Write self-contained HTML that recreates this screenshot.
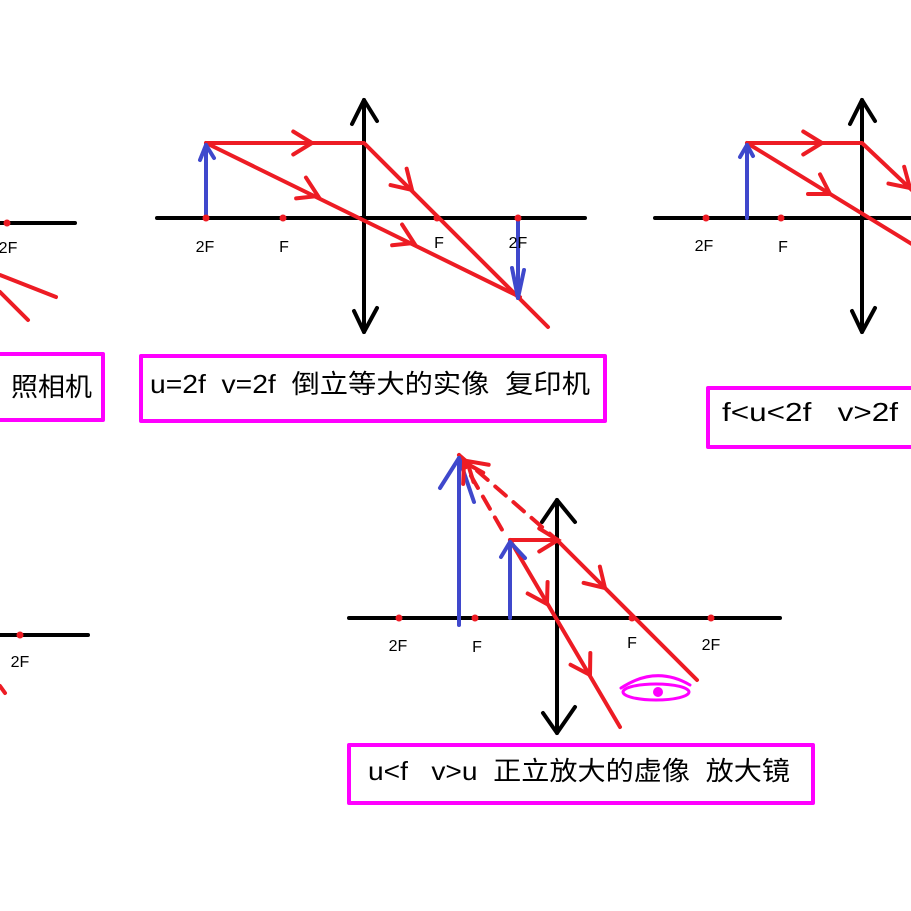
<!DOCTYPE html>
<html><head><meta charset="utf-8"><style>
html,body{margin:0;padding:0;background:#fff;width:911px;height:911px;overflow:hidden}
svg{display:block}
text{font-family:"Liberation Sans","Noto Sans CJK SC",sans-serif}
</style></head><body>
<svg id="s" width="911" height="911" viewBox="0 0 911 911" xmlns="http://www.w3.org/2000/svg">
<g stroke-linecap="round" stroke-linejoin="round" fill="none">
<line x1="0" y1="223" x2="75" y2="223" stroke="#000" stroke-width="4"/>
<line x1="0" y1="275" x2="56" y2="297" stroke="#ed1c24" stroke-width="4"/>
<line x1="0" y1="292" x2="28" y2="320" stroke="#ed1c24" stroke-width="4"/>
<rect x="-5" y="354" width="108" height="66" stroke="#ff00ff" stroke-width="4"/>
<line x1="157" y1="218" x2="585" y2="218" stroke="#000" stroke-width="4"/>
<line x1="364" y1="100" x2="364" y2="332" stroke="#000" stroke-width="4"/>
<polyline points="352,124 364,100 377,121" stroke="#000" stroke-width="4"/>
<polyline points="354,311 364,332 377,308" stroke="#000" stroke-width="4"/>
<polyline points="206,143 364,143 548,327" stroke="#ed1c24" stroke-width="4"/>
<line x1="206" y1="143" x2="520" y2="297" stroke="#ed1c24" stroke-width="4"/>
<line x1="206" y1="218" x2="206" y2="145" stroke="#3f48cc" stroke-width="4"/>
<polyline points="200,160 206,145 214,158" stroke="#3f48cc" stroke-width="4"/>
<line x1="518" y1="218" x2="518" y2="298" stroke="#3f48cc" stroke-width="4"/>
<polyline points="512,268 518,298 524,270" stroke="#3f48cc" stroke-width="4"/>
<rect x="141" y="356" width="464" height="65" stroke="#ff00ff" stroke-width="4"/>
<line x1="655" y1="218" x2="915" y2="218" stroke="#000" stroke-width="4"/>
<line x1="862" y1="100" x2="862" y2="332" stroke="#000" stroke-width="4"/>
<polyline points="850,124 862,100 875,121" stroke="#000" stroke-width="4"/>
<polyline points="852,311 862,332 875,308" stroke="#000" stroke-width="4"/>
<polyline points="747,143 862,143 915,193" stroke="#ed1c24" stroke-width="4"/>
<line x1="747" y1="143" x2="915" y2="246" stroke="#ed1c24" stroke-width="4"/>
<line x1="747" y1="218" x2="747" y2="145" stroke="#3f48cc" stroke-width="4"/>
<polyline points="740,157 747,145 753,156" stroke="#3f48cc" stroke-width="4"/>
<rect x="708" y="388" width="210" height="59" stroke="#ff00ff" stroke-width="4"/>
<line x1="0" y1="635" x2="88" y2="635" stroke="#000" stroke-width="4"/>
<line x1="0" y1="686" x2="5" y2="693" stroke="#ed1c24" stroke-width="4"/>
<line x1="349" y1="618" x2="780" y2="618" stroke="#000" stroke-width="4"/>
<line x1="557" y1="500" x2="557" y2="733" stroke="#000" stroke-width="4"/>
<polyline points="542,522 557,500 575,522" stroke="#000" stroke-width="4"/>
<polyline points="543,713 557,733 575,707" stroke="#000" stroke-width="4"/>
<polyline points="510,540 557,540 697,680" stroke="#ed1c24" stroke-width="4"/>
<line x1="510" y1="540" x2="620" y2="727" stroke="#ed1c24" stroke-width="4"/>
<line x1="459" y1="455" x2="557" y2="540" stroke="#ed1c24" stroke-width="4" stroke-dasharray="14,10"/>
<line x1="459" y1="455" x2="505" y2="535" stroke="#ed1c24" stroke-width="4" stroke-dasharray="14,10"/>
<line x1="459" y1="625" x2="459" y2="458" stroke="#3f48cc" stroke-width="4"/>
<polyline points="440,488 459,458 474,502" stroke="#3f48cc" stroke-width="4"/>
<line x1="510" y1="618" x2="510" y2="542" stroke="#3f48cc" stroke-width="4"/>
<polyline points="501,557 510,542 525,558" stroke="#3f48cc" stroke-width="4"/>
<ellipse cx="656" cy="692" rx="33" ry="8" stroke="#ff00ff" stroke-width="3"/>
<path d="M621,688 Q656,665 690,685" stroke="#ff00ff" stroke-width="3"/>
<circle cx="658" cy="692" r="5" fill="#ff00ff" stroke="none"/>
<rect x="349" y="745" width="464" height="58" stroke="#ff00ff" stroke-width="4"/>
</g>
<g id="heads" stroke="#ed1c24" stroke-width="4" fill="none" stroke-linecap="round"></g>
<g fill="#ed1c24">
<circle cx="7" cy="223" r="3.5"/><circle cx="206" cy="218" r="3.5"/><circle cx="283" cy="218" r="3.5"/>
<circle cx="437" cy="218" r="3.5"/><circle cx="518" cy="218" r="3.5"/>
<circle cx="706" cy="218" r="3.5"/><circle cx="781" cy="218" r="3.5"/>
<circle cx="20" cy="635" r="3.5"/>
<circle cx="399" cy="618" r="3.5"/><circle cx="475" cy="618" r="3.5"/><circle cx="632" cy="618" r="3.5"/><circle cx="711" cy="618" r="3.5"/>
</g>
<g font-size="16" fill="#000" text-anchor="middle">
<text x="8" y="253">2F</text>
<text x="205" y="252">2F</text><text x="284" y="252">F</text><text x="439" y="248">F</text><text x="518" y="248">2F</text>
<text x="704" y="251">2F</text><text x="783" y="252">F</text>
<text x="20" y="667">2F</text>
<text x="398" y="651">2F</text><text x="477" y="652">F</text><text x="632" y="648">F</text><text x="711" y="650">2F</text>
</g>
<g font-size="26" fill="#000">
<text x="11" y="396" textLength="81" lengthAdjust="spacingAndGlyphs">照相机</text>
<text x="150" y="393" xml:space="preserve" textLength="440" lengthAdjust="spacingAndGlyphs">u=2f  v=2f  倒立等大的实像  复印机</text>
<text x="722" y="421" xml:space="preserve" textLength="176" lengthAdjust="spacingAndGlyphs">f&lt;u&lt;2f   v&gt;2f</text>
<text x="368" y="780" xml:space="preserve" textLength="422" lengthAdjust="spacingAndGlyphs">u&lt;f   v&gt;u  正立放大的虚像  放大镜</text>
</g>
</svg>
<script>
(function(){
var g=document.getElementById('heads');
function head(tx,ty,fx,fy){
 var dx=tx-fx,dy=ty-fy,l=Math.hypot(dx,dy);dx/=l;dy/=l;
 var bx=-dx,by=-dy,L=22,c=Math.cos(0.55),s=Math.sin(0.55);
 var a=[tx+L*(bx*c-by*s),ty+L*(bx*s+by*c)],b=[tx+L*(bx*c+by*s),ty+L*(-bx*s+by*c)];
 var p=document.createElementNS('http://www.w3.org/2000/svg','polyline');
 p.setAttribute('points',a.join(',')+' '+tx+','+ty+' '+b.join(','));g.appendChild(p);
}
head(312,143,206,143);head(412,190,364,143);head(318,196,206,143);head(414,243,206,143);
head(822,143,747,143);head(910,188,862,143);head(830,194,747,143);
head(558,540,510,540);head(605,588,557,540);head(547,604,510,540);head(590,675,510,540);
head(464,462,505,535);head(467,461,557,540);
})();
</script>
</body></html>
